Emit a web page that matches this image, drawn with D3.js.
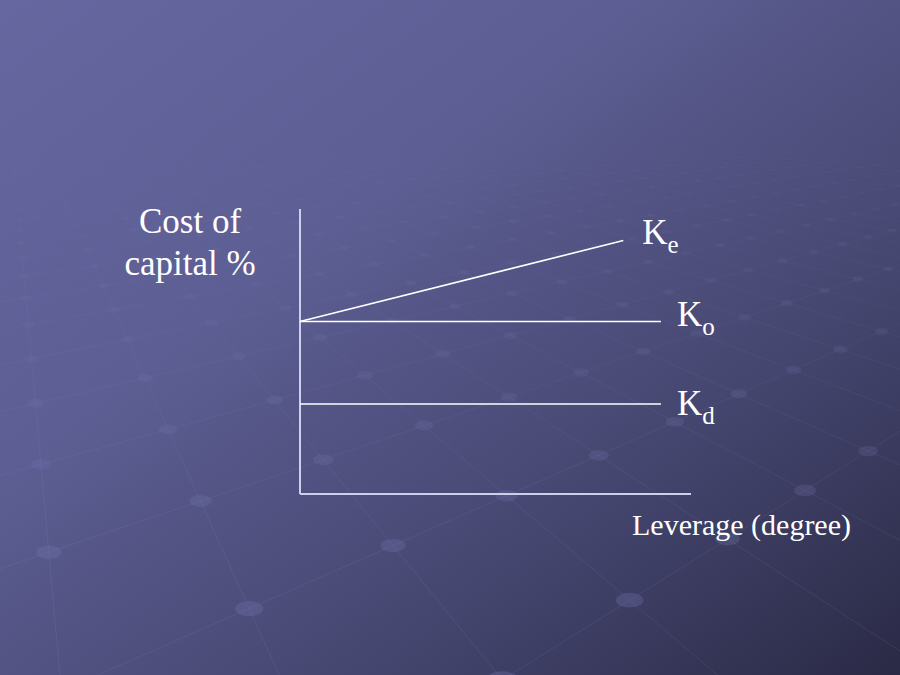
<!DOCTYPE html>
<html><head><meta charset="utf-8">
<script src="https://cdn.jsdelivr.net/npm/d3@7"></script>
<style>html,body{margin:0;padding:0;background:#4a4a78;}svg{display:block;}</style>
</head><body>
<svg id="c" width="900" height="675"></svg>
<script>
// ---- data ----
const seriesNames = ["Ke", "Ko", "Kd"];
const subscripts = ["e", "o", "d"];
const leverageStart = [0, 0, 0];
const leverageEnd = [10.75, 12, 12];
const costStart = [5.75, 5.75, 3];
const costEnd = [8.45, 5.75, 3];
const xAxisLabel = "Leverage (degree)";
const yAxisLabel = ["Cost of", "capital %"];

const W = 900, H = 675;
const FONT = '"Liberation Serif", Tinos, "Times New Roman", serif';
const svg = d3.select("#c");
const defs = svg.append("defs");

// background gradient
const g = defs.append("linearGradient").attr("id","bg")
  .attr("x1","0").attr("y1","0").attr("x2","1").attr("y2","1");
g.append("stop").attr("offset","0").attr("stop-color","#6667a0");
g.append("stop").attr("offset","0.35").attr("stop-color","#5d5e93");
g.append("stop").attr("offset","0.7").attr("stop-color","#45466f");
g.append("stop").attr("offset","1").attr("stop-color","#2a2a46");
svg.append("rect").attr("width",W).attr("height",H).attr("fill","url(#bg)");

// decorative perspective dot grid
const deco = svg.append("g");
const hy = 70, F = 610, th = 28*Math.PI/180, dd = 0.32;
function proj(i,j){
  const X = (i*Math.cos(th) - j*Math.sin(th))*dd;
  const Z = 0.85 + (i*Math.sin(th) + j*Math.cos(th))*dd;
  return {x: 330 + X*F/Z, y: hy + F/Z, z: Z};
}
const pts = [];
for(let i=-30;i<=40;i++) for(let j=-40;j<=40;j++){
  const p = proj(i,j);
  if(p.z>0.5 && p.x>-60 && p.x<W+60 && p.y>150 && p.y<H+40) pts.push(p);
}
function gridLine(a){
  a = a.filter(p=>p.z>0.5 && p.y>150);
  for(let k=0;k<a.length-1;k++){
    deco.append("line").attr("x1",a[k].x).attr("y1",a[k].y).attr("x2",a[k+1].x).attr("y2",a[k+1].y)
      .attr("stroke","#a0a0d8").attr("stroke-opacity",Math.min(0.12,0.14/a[k].z)).attr("stroke-width",1);
  }
}
for(let i=-30;i<=40;i++){ const a=[]; for(let j=-40;j<=40;j+=0.5) a.push(proj(i,j)); gridLine(a); }
for(let j=-40;j<=40;j++){ const a=[]; for(let i=-30;i<=40;i+=0.5) a.push(proj(i,j)); gridLine(a); }
deco.selectAll("ellipse").data(pts).join("ellipse")
  .attr("cx",p=>p.x).attr("cy",p=>p.y)
  .attr("rx",p=>16/p.z).attr("ry",p=>8.5/p.z)
  .attr("fill","#7878b4").attr("fill-opacity",p=>Math.min(0.3,0.34/p.z));

// ---- chart ----
const x = d3.scaleLinear().domain([0,13]).range([300,691]);
const y = d3.scaleLinear().domain([0,9.5]).range([494,209]);

const axisColor = "#cfcfec";
const cg = svg.append("g");
cg.append("line").attr("x1",x(0)).attr("x2",x(0)).attr("y1",y(0)).attr("y2",y(9.5))
  .attr("stroke",axisColor).attr("stroke-width",2);
cg.append("line").attr("x1",x(0)).attr("x2",x(13)).attr("y1",y(0)).attr("y2",y(0))
  .attr("stroke",axisColor).attr("stroke-width",2);

const series = seriesNames.map((n,i)=>({name:n, sub:subscripts[i],
  pts:[[leverageStart[i],costStart[i]],[leverageEnd[i],costEnd[i]]]}));
const line = d3.line().x(p=>x(p[0])).y(p=>y(p[1]));
cg.selectAll("path.s").data(series).join("path").attr("class","s")
  .attr("d",s=>line(s.pts)).attr("fill","none").attr("stroke","#ffffff").attr("stroke-width",1.6);

// series labels
const lab = cg.selectAll("text.lab").data(series).join("text").attr("class","lab")
  .attr("x",(s,i)=> i===0 ? x(s.pts[1][0])+19 : x(s.pts[1][0])+16)
  .attr("y",(s,i)=> y(s.pts[1][1])+ (i===0?3:(i===1?4:11)))
  .attr("fill","#ffffff").style("font-family",FONT).style("font-size","35px");
lab.append("tspan").text(s=>s.name.slice(0,1));
lab.append("tspan").attr("dy",9).style("font-size","25px").text(s=>s.sub);

// axis labels
cg.append("text").attr("x",x(0)+332).attr("y",y(0)+41).attr("fill","#ffffff")
  .style("font-family",FONT).style("font-size","30px").text(xAxisLabel);
cg.selectAll("text.yl").data(yAxisLabel).join("text").attr("class","yl")
  .attr("x",190).attr("y",(d,i)=>233+i*42).attr("text-anchor","middle")
  .attr("fill","#ffffff").style("font-family",FONT).style("font-size","35px").text(d=>d);
</script>
</body></html>
